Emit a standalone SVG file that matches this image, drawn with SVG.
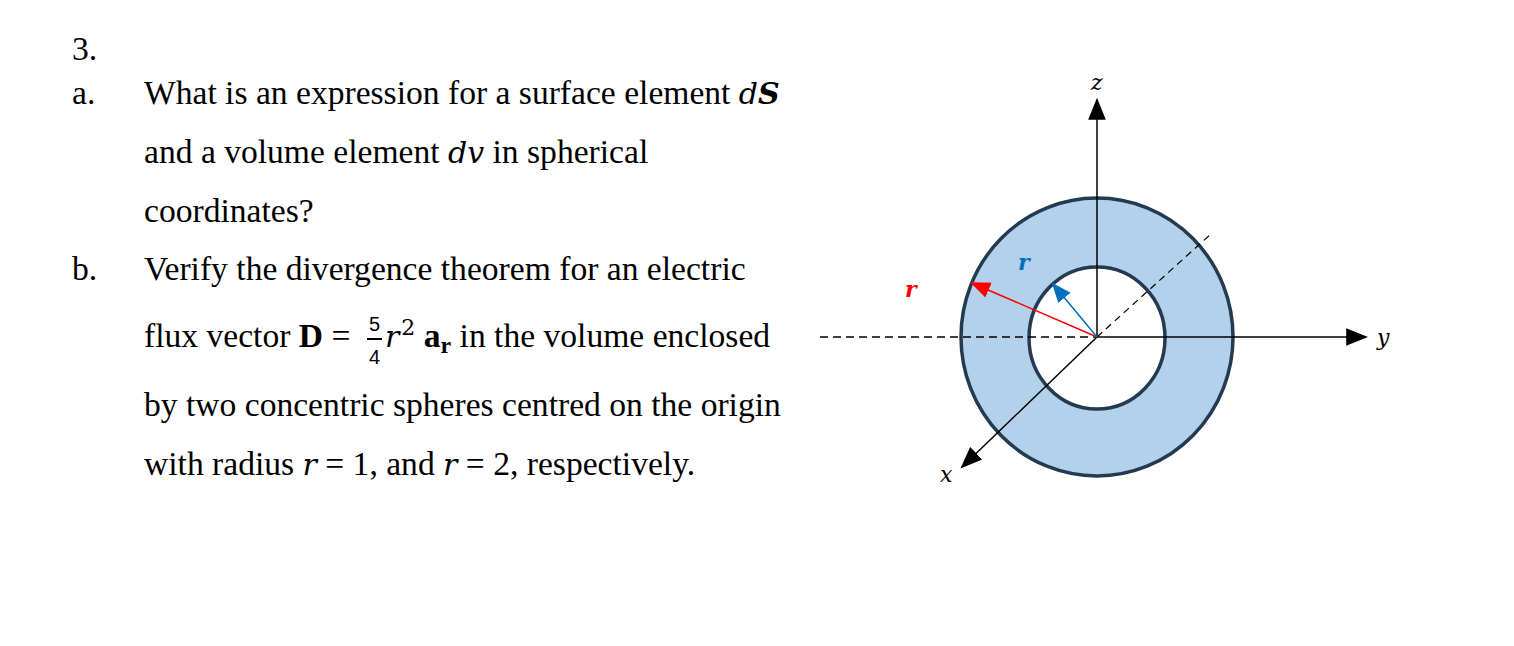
<svg xmlns="http://www.w3.org/2000/svg" width="1514" height="646" viewBox="0 0 1514 646">
<style>
.t{font-family:"Liberation Serif",serif;font-size:33.6px;fill:#000}
.m{font-family:"DejaVu Serif","Liberation Serif",serif;font-style:italic;font-size:30px}
.ax{stroke:#000;stroke-width:1.5;fill:none}
</style>
<defs>
<marker id="ak" viewBox="0 0 10 10" refX="9" refY="5" markerWidth="22" markerHeight="22" markerUnits="userSpaceOnUse" orient="auto"><path d="M0,1L10,5L0,9z" fill="#000"/></marker>
<marker id="ar" viewBox="0 0 10 10" refX="9" refY="5" markerWidth="20" markerHeight="20" markerUnits="userSpaceOnUse" orient="auto"><path d="M0,1L10,5L0,9z" fill="#ff0000"/></marker>
<marker id="ab" viewBox="0 0 10 10" refX="9" refY="5" markerWidth="20" markerHeight="20" markerUnits="userSpaceOnUse" orient="auto"><path d="M0,1L10,5L0,9z" fill="#0070c0"/></marker>
</defs>
<rect width="1514" height="646" fill="#fff"/>
<g id="text" class="t">
<text x="72" y="60">3.</text>
<text x="72" y="104">a.</text>
<text x="144" y="104">What is an expression for a surface element <tspan class="m">d</tspan><tspan font-weight="bold" class="m">S</tspan></text>
<text x="144" y="163">and a volume element <tspan class="m">dv</tspan> in spherical</text>
<text x="144" y="222">coordinates?</text>
<text x="72" y="280">b.</text>
<text x="144" y="280">Verify the divergence theorem for an electric</text>
<text x="144" y="347">flux vector <tspan font-weight="bold">D</tspan> =</text>
<text x="369" y="331" font-family="Liberation Sans,sans-serif" font-size="20">5</text>
<line x1="367" y1="339" x2="382" y2="339" stroke="#000" stroke-width="2"/>
<text x="369" y="364" font-family="Liberation Sans,sans-serif" font-size="20">4</text>
<text x="385" y="347"><tspan class="m">r</tspan><tspan font-size="22" dx="2" dy="-12" font-family="DejaVu Serif,serif">2</tspan><tspan dy="12"> </tspan><tspan font-weight="bold">a</tspan><tspan font-weight="bold" font-size="24" dy="6">r</tspan><tspan dy="-6"> in the volume enclosed</tspan></text>
<text x="144" y="416">by two concentric spheres centred on the origin</text>
<text x="144" y="475">with radius <tspan class="m">r</tspan> = 1, and <tspan class="m">r</tspan> = 2, respectively.</text>
</g>
<g id="shell">
<ellipse cx="1097" cy="337" rx="136" ry="139" fill="#b4d1eb" stroke="#243a51" stroke-width="3.5"/>
<ellipse cx="1097" cy="338" rx="68" ry="71" fill="#fff" stroke="#243a51" stroke-width="3.5"/>
</g>
<g id="connectors">
<line x1="1097" y1="337" x2="1097" y2="100" class="ax" marker-end="url(#ak)"/>
<line x1="1097" y1="337" x2="1366" y2="337" class="ax" marker-end="url(#ak)"/>
<line x1="1097" y1="337" x2="962" y2="467" class="ax" marker-end="url(#ak)"/>
<line x1="820" y1="337" x2="1097" y2="337" stroke="#000" stroke-width="1.5" stroke-dasharray="8,5"/>
<line x1="1097" y1="337" x2="1212" y2="233" stroke="#000" stroke-width="1.2" stroke-dasharray="7,5"/>
<line x1="1097" y1="337" x2="972" y2="283" stroke="#ff0000" stroke-width="1.5" marker-end="url(#ar)"/>
<line x1="1097" y1="337" x2="1053" y2="284" stroke="#0070c0" stroke-width="1.5" marker-end="url(#ab)"/>
</g>
<g id="labels" font-family="DejaVu Serif,serif" font-style="italic" font-size="22">
<text x="1091" y="90">z</text>
<text x="1377" y="345">y</text>
<text x="940" y="482">x</text>
<text x="905" y="297" fill="#ff0000" font-weight="bold">r</text>
<text x="1018" y="270" fill="#0070c0" font-weight="bold">r</text>
</g>
</svg>
